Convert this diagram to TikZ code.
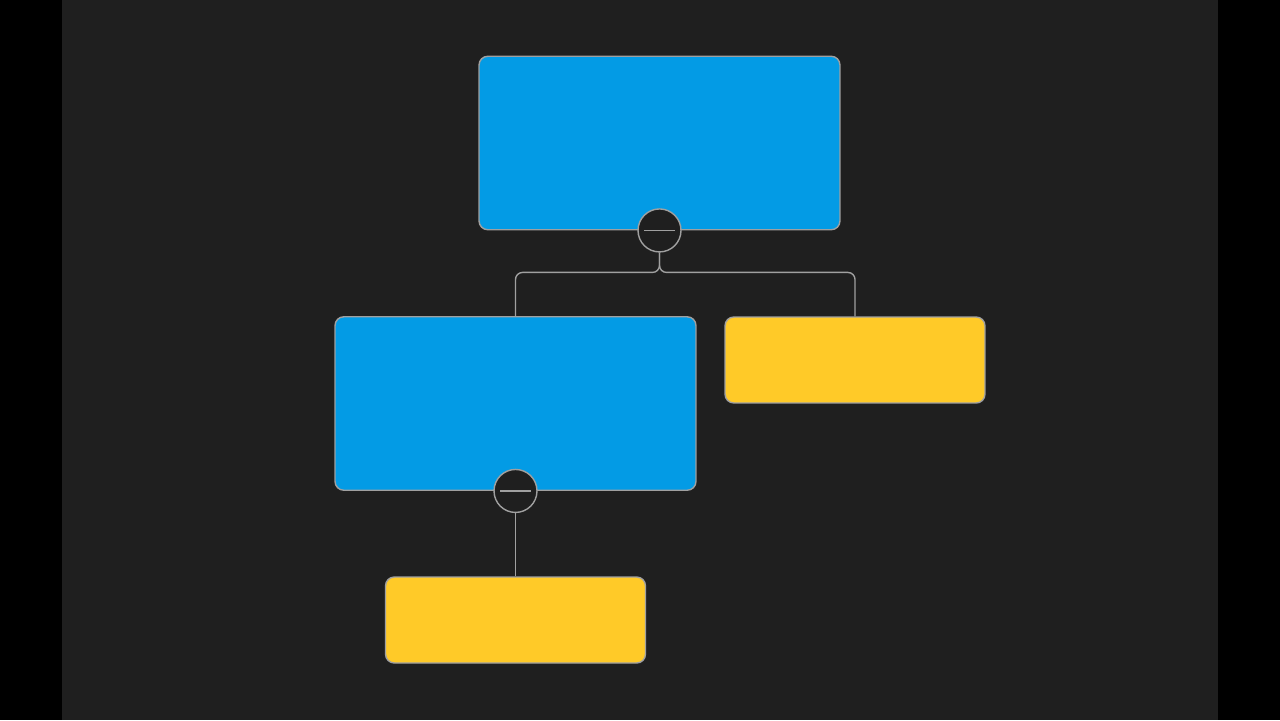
\documentclass[tikz,border=0pt]{standalone}
\usepackage{tikz}

\definecolor{pageblack}{HTML}{000000}
\definecolor{canvas}{HTML}{1F1F1F}
\definecolor{nodeblue}{HTML}{039BE5}
\definecolor{nodeyellow}{HTML}{FFCA28}
\definecolor{edgegrey}{HTML}{A0A0A0}

\tikzset{
  bluebox/.style={draw=edgegrey, fill=nodeblue, line width=0.8pt, rounded corners=5pt,
    minimum width=7.22cm, minimum height=3.47cm, inner sep=0pt},
  yellowbox/.style={draw=edgegrey, fill=nodeyellow, line width=0.8pt, rounded corners=5pt,
    minimum width=5.2cm, minimum height=1.72cm, inner sep=0pt},
  toggle/.style={circle, draw=edgegrey, fill=canvas, line width=0.8pt,
    minimum size=0.86cm, inner sep=0pt},
  link/.style={draw=edgegrey, line width=0.8pt, rounded corners=4pt},
}

\begin{document}
\begin{tikzpicture}[x=0.02cm, y=-0.02cm] % one unit is one pixel of the frame
    % Frame and canvas
    \fill[pageblack] (0,0) rectangle (1280,720);
    \fill[canvas] (62,0) rectangle (1218,720);
    \useasboundingbox (0,0) rectangle (1280,720);

    % Boxes
    \node[bluebox] (root) at (659.5,143) {};
    \node[bluebox] (inner) at (515.5,403.5) {};
    \node[yellowbox] (leafright) at (855,360) {};
    \node[yellowbox] (leafbottom) at (515.5,620) {};

    % Collapse toggles, sitting on the lower edge of each parent
    \node[toggle] (rootToggle) at (root.south) {};
    \node[toggle] (innerToggle) at (inner.south) {};
    \draw[edgegrey, line width=0.8pt] ([xshift=-0.31cm]rootToggle.center) -- ([xshift=0.31cm]rootToggle.center);
    \draw[edgegrey, line width=0.8pt] ([xshift=-0.31cm]innerToggle.center) -- ([xshift=0.31cm]innerToggle.center);

    % Connectors
    \coordinate (split) at ([yshift=-0.84cm]root.south); % where the branch divides
    \draw[link] (rootToggle.south) -- (split) -| (inner.north);
    \draw[link] (rootToggle.south) -- (split) -| (leafright.north);
    \draw[link] (innerToggle.south) -- (leafbottom.north);
\end{tikzpicture}
\end{document}
